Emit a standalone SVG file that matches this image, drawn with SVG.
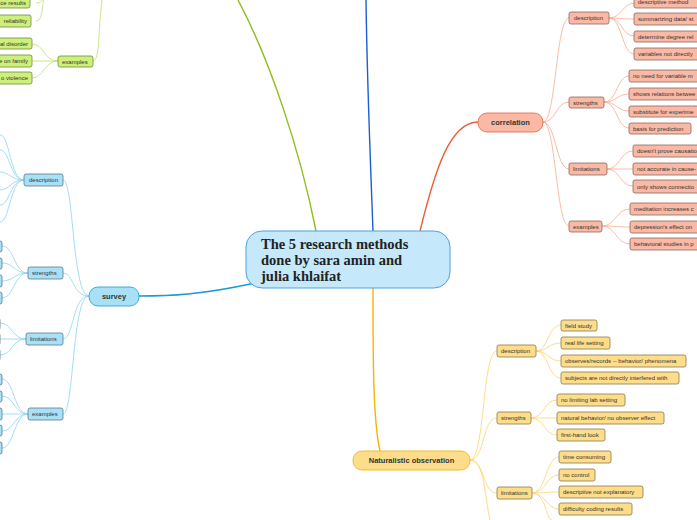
<svg xmlns="http://www.w3.org/2000/svg" width="697" height="520" viewBox="0 0 697 520">
<style>
text{font-family:"Liberation Sans",Arial,sans-serif;font-size:6px;fill:#333}
.b{font-weight:bold}
.o rect{fill:#f9b9a5;stroke:#8a6a60;stroke-width:0.8}
.y rect{fill:#fddc8a;stroke:#8a7a50;stroke-width:0.8}
.s rect{fill:#a8e0f8;stroke:#607a88;stroke-width:0.8}
.g rect{fill:#cdf07b;stroke:#6f8a40;stroke-width:0.8}
.co path{fill:none}
.lo{stroke:#f9a98f;stroke-width:0.8}
.ly{stroke:#fdd36e;stroke-width:0.8}
.ls{stroke:#8ed3f3;stroke-width:0.8}
.lg{stroke:#bde06a;stroke-width:0.8}
</style>
<rect width="697" height="520" fill="#fff"/>
<g id="connectors" class="co">
<path d="M316,231 C300,150 270,60 238,0" stroke="#8cbf1e" stroke-width="1.4"/>
<path d="M373,231 C370,150 367,80 366,0" stroke="#1b5fcf" stroke-width="1.4"/>
<path d="M420,231 C435,170 450,122 478,122" stroke="#e8603c" stroke-width="1.4"/>
<path d="M373,288 C373,360 373,420 380,451" stroke="#f7b500" stroke-width="1.4"/>
<path d="M255,283 C200,295 170,296 139,296" stroke="#1b9ad6" stroke-width="1.4"/>
<!-- correlation -->
<g class="lo">
<path d="M543,122 C556,122 556,18 569,18"/><path d="M543,122 C556,122 556,102 569,102"/>
<path d="M543,122 C556,122 556,169 569,169"/><path d="M543,122 C556,122 556,226 569,226"/>
<path d="M609,18 C622,18 622,3 635,3"/><path d="M609,18 C622,18 622,19 634,19"/><path d="M609,18 C622,18 622,36 634,36"/><path d="M609,18 C622,18 622,54 634,54"/>
<path d="M604,102 C617,102 617,76 629,76"/><path d="M604,102 C617,102 617,94 629,94"/><path d="M604,102 C617,102 617,111 629,111"/><path d="M604,102 C617,102 617,128 629,128"/>
<path d="M607,169 C620,169 620,151 633,151"/><path d="M607,169 C620,169 620,169 633,169"/><path d="M607,169 C620,169 620,186 633,186"/>
<path d="M602,226 C616,226 616,209 630,209"/><path d="M602,226 C616,226 616,227 630,227"/><path d="M602,226 C616,226 616,244 630,244"/>
</g>
<!-- naturalistic -->
<g class="ly">
<path d="M470,460 C485,460 482,351 497,351"/><path d="M470,460 C485,460 482,418 497,418"/><path d="M470,460 C485,460 482,493 497,493"/><path d="M470,460 C485,460 485,500 490,520"/>
<path d="M536,351 C548,351 548,325 561,325"/><path d="M536,351 C548,351 548,343 561,343"/><path d="M536,351 C548,351 548,361 561,361"/><path d="M536,351 C548,351 548,378 561,378"/>
<path d="M531,418 C544,418 544,400 557,400"/><path d="M531,418 C544,418 544,418 557,418"/><path d="M531,418 C544,418 544,435 557,435"/>
<path d="M532,493 C546,493 546,457 559,457"/><path d="M532,493 C546,493 546,475 559,475"/><path d="M532,493 C546,493 546,492 559,492"/><path d="M532,493 C546,493 546,509 559,509"/><path d="M532,493 C546,493 546,520 552,520"/>
</g>
<!-- survey -->
<g class="ls">
<path d="M89,296 C72,296 74,180 63,180"/><path d="M89,296 C72,296 74,273 63,273"/><path d="M89,296 C72,296 74,339 63,339"/><path d="M89,296 C72,296 74,414 63,414"/>
<path d="M24,180 C10,180 10,135 0,135"/><path d="M24,180 C10,180 10,150 0,150"/><path d="M24,180 C10,180 10,172 0,172"/><path d="M24,180 C10,180 10,190 0,190"/><path d="M24,180 C10,180 10,205 0,205"/><path d="M24,180 C10,180 10,222 0,222"/>
<path d="M28,273 C14,273 14,246 2,246"/><path d="M28,273 C14,273 14,263 2,263"/><path d="M28,273 C14,273 14,281 2,281"/><path d="M28,273 C14,273 14,298 2,298"/>
<path d="M26,339 C12,339 12,323 0,323"/><path d="M26,339 C12,339 12,339 0,339"/><path d="M26,339 C12,339 12,355 0,355"/>
<path d="M28,414 C14,414 14,379 2,379"/><path d="M28,414 C14,414 14,396 2,396"/><path d="M28,414 C14,414 14,414 2,414"/><path d="M28,414 C14,414 14,431 2,431"/><path d="M28,414 C14,414 14,448 2,448"/>
</g>
<!-- green -->
<g class="lg">
<path d="M93,61 C100,61 98,30 102,0"/>
<path d="M58,61 C44,61 44,44 32,44"/><path d="M58,61 C44,61 44,61 32,61"/><path d="M58,61 C44,61 44,78 32,78"/>
<path d="M36,3 C42,3 42,0 44,-4"/><path d="M36,21 C42,21 42,10 44,-4"/>
</g>
</g>

<g id="center"><rect x="246" y="231" width="204" height="57" rx="16" fill="#c5e9fa" stroke="#4aa3df"/>
<text x="261" y="249" style="font-family:'Liberation Serif',serif;font-size:14.5px;font-weight:bold;fill:#222">The 5 research methods</text>
<text x="261" y="265" style="font-family:'Liberation Serif',serif;font-size:14.5px;font-weight:bold;fill:#222">done by sara amin and</text>
<text x="261" y="281" style="font-family:'Liberation Serif',serif;font-size:14.5px;font-weight:bold;fill:#222">julia khlaifat</text></g>

<g id="correlation" class="o"><rect x="478" y="113" width="65" height="19" rx="9" stroke="#e8603c" style="stroke:#e8603c"/><text x="510.5" y="125" text-anchor="middle" class="b" style="font-size:7.5px">correlation</text></g>
<g id="corr-desc" class="o"><rect x="569" y="12" width="40" height="12" rx="2"/><text x="574" y="20">description</text></g>
<g id="corr-str" class="o"><rect x="569" y="97" width="35" height="11" rx="2"/><text x="573" y="105">strengths</text></g>
<g id="corr-lim" class="o"><rect x="569" y="163" width="38" height="12" rx="2"/><text x="573" y="171">limitations</text></g>
<g id="corr-ex" class="o"><rect x="569" y="221" width="33" height="11" rx="2"/><text x="573" y="229">examples</text></g>
<g id="corr-leaves" class="o">
<rect x="634" y="-3" width="70" height="11" rx="2"/><text x="638" y="4">descriptive method</text>
<rect x="634" y="13" width="70" height="12" rx="2"/><text x="638" y="21">summarizing data/ st</text>
<rect x="634" y="31" width="70" height="11" rx="2"/><text x="638" y="39">determine degree rel</text>
<rect x="634" y="48" width="70" height="12" rx="2"/><text x="638" y="56">variables not directly</text>
<rect x="629" y="70" width="75" height="12" rx="2"/><text x="633" y="78">no need for variable m</text>
<rect x="629" y="88" width="75" height="12" rx="2"/><text x="633" y="96">shows relations betwee</text>
<rect x="629" y="106" width="75" height="11" rx="2"/><text x="633" y="114">substitute for experime</text>
<rect x="629" y="123" width="62" height="11" rx="2"/><text x="633" y="131">basis for prediction</text>
<rect x="633" y="145" width="70" height="12" rx="2"/><text x="637" y="153">doesn't prove causatio</text>
<rect x="633" y="163" width="70" height="12" rx="2"/><text x="637" y="171">not accurate in cause-</text>
<rect x="633" y="180" width="70" height="13" rx="2"/><text x="637" y="189">only shows connectio</text>
<rect x="630" y="203" width="74" height="12" rx="2"/><text x="634" y="211">meditation increases c</text>
<rect x="630" y="221" width="74" height="12" rx="2"/><text x="634" y="229">depression's effect on</text>
<rect x="630" y="238" width="74" height="12" rx="2"/><text x="634" y="246">behavioral studies in p</text>
</g>

<g id="naturalistic" class="y"><rect x="353" y="451" width="117" height="19" rx="9" style="stroke:#f0b400"/><text x="411.5" y="463" text-anchor="middle" class="b" style="font-size:7.5px">Naturalistic observation</text></g>
<g id="nat-desc" class="y"><rect x="497" y="345" width="39" height="12" rx="2"/><text x="501" y="353">description</text></g>
<g id="nat-str" class="y"><rect x="497" y="412" width="34" height="12" rx="2"/><text x="501" y="420">strengths</text></g>
<g id="nat-lim" class="y"><rect x="497" y="487" width="35" height="12" rx="2"/><text x="501" y="495">limitations</text></g>
<g id="nat-leaves" class="y">
<rect x="561" y="320" width="36" height="11" rx="2"/><text x="565" y="328">field study</text>
<rect x="561" y="337" width="49" height="12" rx="2"/><text x="565" y="345">real life setting</text>
<rect x="561" y="355" width="125" height="12" rx="2"/><text x="565" y="363">observes/records -- behavior/ phenomena</text>
<rect x="561" y="372" width="118" height="12" rx="2"/><text x="565" y="380">subjects are not directly interfered with</text>
<rect x="557" y="394" width="68" height="12" rx="2"/><text x="561" y="402">no limiting lab setting</text>
<rect x="557" y="412" width="107" height="12" rx="2"/><text x="561" y="420">natural behavior/ no observer effect</text>
<rect x="557" y="429" width="48" height="12" rx="2"/><text x="561" y="437">first-hand look</text>
<rect x="559" y="451" width="52" height="12" rx="2"/><text x="563" y="459">time consuming</text>
<rect x="559" y="469" width="36" height="12" rx="2"/><text x="563" y="477">no control</text>
<rect x="559" y="486" width="84" height="12" rx="2"/><text x="563" y="494">descriptive not explanatory</text>
<rect x="559" y="503" width="73" height="12" rx="2"/><text x="563" y="511">difficulty coding results</text>
</g>

<g id="survey" class="s"><rect x="89" y="287" width="50" height="19" rx="9" style="stroke:#1b9ad6"/><text x="114" y="299" text-anchor="middle" class="b" style="font-size:7.5px">survey</text></g>
<g id="sur-desc" class="s"><rect x="24" y="174" width="39" height="12" rx="2"/><text x="29" y="182">description</text></g>
<g id="sur-str" class="s"><rect x="28" y="267" width="35" height="12" rx="2"/><text x="32" y="275">strengths</text></g>
<g id="sur-lim" class="s"><rect x="26" y="333" width="37" height="12" rx="2"/><text x="30" y="341">limitations</text></g>
<g id="sur-ex" class="s"><rect x="28" y="408" width="35" height="12" rx="2"/><text x="32" y="416">examples</text></g>
<g id="sur-leaves" class="s">
<rect x="-10" y="241" width="12" height="11" rx="2"/><rect x="-10" y="258" width="12" height="11" rx="2"/><rect x="-10" y="275" width="12" height="12" rx="2"/><rect x="-10" y="292" width="12" height="12" rx="2"/>
<rect x="-10" y="318" width="10" height="12" rx="2"/><rect x="-10" y="333" width="10" height="12" rx="2"/><rect x="-10" y="349" width="10" height="12" rx="2"/>
<rect x="-10" y="374" width="12" height="11" rx="2"/><rect x="-10" y="391" width="12" height="11" rx="2"/><rect x="-10" y="408" width="12" height="12" rx="2"/><rect x="-10" y="425" width="12" height="11" rx="2"/><rect x="-10" y="442" width="12" height="12" rx="2"/>
</g>

<g id="green-ex" class="g"><rect x="58" y="56" width="35" height="11" rx="2"/><text x="62" y="64">examples</text></g>
<g id="green-leaves" class="g">
<rect x="-20" y="-3" width="50" height="11" rx="2"/><text x="26" y="5" text-anchor="end">ce results</text>
<rect x="-20" y="15" width="51" height="12" rx="2"/><text x="27" y="23" text-anchor="end">reliability</text>
<rect x="-20" y="38" width="52" height="11" rx="2"/><text x="28" y="46" text-anchor="end">al disorder</text>
<rect x="-20" y="55" width="52" height="12" rx="2"/><text x="28" y="63" text-anchor="end">e on family</text>
<rect x="-20" y="72" width="52" height="12" rx="2"/><text x="28" y="80" text-anchor="end">o violence</text>
</g>
</svg>
